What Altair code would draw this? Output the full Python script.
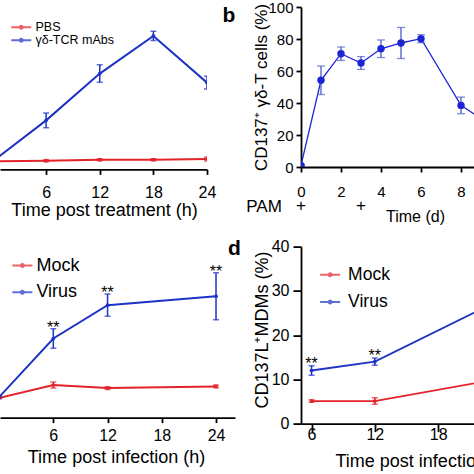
import altair as alt
import pandas as pd

FONT = "Liberation Sans"
RED = "#e3222a"
BLUE = "#1d33c4"
BLUE_B = "#1c24d6"
BLUE_B_ERR = "#4b5ccc"

# a: CD137 expression after treatment (hours)
a_hours = [0, 6, 12, 18, 24]
a_groups = ["PBS", "γδ-TCR mAbs"]
a_pbs = [2.45, 2.68, 2.99, 2.99, 3.2]
a_pbs_err = [0.2, 0.3, 0.3, 0.3, 0.6]
a_mabs = [2.45, 15.1, 29.5, 41.1, 26.7]
a_mabs_err = [0.2, 2.25, 2.7, 1.45, 1.95]

# b: CD137+ γδ-T cells over days of PAM stimulation
b_days = [0, 1, 2, 3, 4, 5, 6, 8, 10]
b_pct = [1.0, 54.2, 70.8, 65.0, 73.9, 77.5, 80.2, 38.5, 22.0]
b_err = [0.5, 8.9, 4.2, 4.0, 5.5, 9.7, 2.5, 5.2, 4.0]
pam_days = [0, 3]

# c: infection time course (hours)
inf_groups = ["Mock", "Virus"]
c_hours = [0, 6, 12, 24]
c_mock = [4.6, 7.6, 6.9, 7.3]
c_mock_err = [0.2, 0.7, 0.3, 0.3]
c_virus = [4.8, 18.5, 26.3, 28.4]
c_virus_err = [0.3, 2.3, 2.6, 5.5]
c_sig = ["", "**", "**", "**"]

# d: CD137L+ MDMs after infection (hours)
d_hours = [6, 12, 24]
d_mock = [5.1, 5.1, 10.2]
d_mock_err = [0.3, 0.75, 0.8]
d_virus = [12.0, 14.0, 28.1]
d_virus_err = [1.1, 0.8, 2.0]
d_sig = ["**", "**", "**"]

LEGEND_SYMBOL = "M-2,0L2,0M-0.3,0A0.3,0.3,0,1,0,0.3,0A0.3,0.3,0,1,0,-0.3,0"


def frame(x, groups, series, errs, sigs=None):
    rows = []
    for k, g in enumerate(groups):
        for i, t in enumerate(x):
            rows.append({
                "t": t, "group": g, "value": series[k][i], "err": errs[k][i],
                "sig": (sigs[k][i] if sigs and sigs[k] else ""),
            })
    return pd.DataFrame(rows)


def two_series_panel(df, groups, x_scale, x_axis, y_scale, y_axis, width, height,
                     legend, line_width=2.0, star_dy=4):
    color = alt.Color("group:N", scale=alt.Scale(domain=groups, range=[RED, BLUE]),
                      legend=legend)
    base = alt.Chart(df).transform_calculate(
        lo="datum.value - datum.err", hi="datum.value + datum.err"
    ).encode(x=alt.X("t:Q", scale=x_scale, axis=x_axis), color=color)
    yv = alt.Y("value:Q", scale=y_scale, axis=y_axis)
    ylo = alt.Y("lo:Q", scale=y_scale, axis=y_axis)
    yhi = alt.Y("hi:Q", scale=y_scale, axis=y_axis)
    line = base.mark_line(strokeWidth=line_width, clip=True).encode(y=yv)
    pts = base.mark_point(filled=True, size=14, opacity=1, clip=True).encode(y=yv)
    bars = base.mark_rule(strokeWidth=1.5, clip=True).encode(y=ylo, y2="hi:Q")
    cap_lo = base.mark_tick(orient="horizontal", size=6, thickness=1.5, clip=True).encode(y=ylo)
    cap_hi = base.mark_tick(orient="horizontal", size=6, thickness=1.5, clip=True).encode(y=yhi)
    stars = base.mark_text(font=FONT, fontSize=16, baseline="alphabetic", dy=star_dy,
                           clip=True).encode(y=yhi, text="sig:N", color=alt.value("black"))
    return alt.layer(line, bars, cap_lo, cap_hi, pts, stars).properties(width=width, height=height)


def make_legend(x, y, font_size, row_pad, label_offset):
    return alt.Legend(
        title=None, orient="none", legendX=x, legendY=y, direction="vertical",
        symbolType=LEGEND_SYMBOL, symbolSize=100, symbolStrokeWidth=2,
        labelFont=FONT, labelFontSize=font_size, labelColor="black",
        rowPadding=row_pad, labelOffset=label_offset, padding=0,
    )


def x_axis(values, title, label_size, label_pad, tick, title_x, title_y, title_size=18,
           title_align="center", label_expr=None):
    kw = dict(values=values, title=title, labelFontSize=label_size, labelPadding=label_pad,
              tickSize=tick, titleX=title_x, titleY=title_y, titleFontSize=title_size,
              titleAlign=title_align, titleBaseline="middle", labelFlush=False,
              labelOverlap=False)
    if label_expr:
        kw["labelExpr"] = label_expr
    return alt.Axis(**kw)


def y_axis(values, title, label_size, label_pad, tick, title_x, title_y, title_size):
    return alt.Axis(values=values, title=title, labelFontSize=label_size,
                    labelPadding=label_pad, tickSize=tick, titleFontSize=title_size,
                    titleAngle=270, titleX=title_x, titleY=title_y, titleAlign="center",
                    titleBaseline="middle", labelFlush=False, labelOverlap=False)


# ---- panel a
a_df = frame(a_hours, a_groups, [a_pbs, a_mabs], [a_pbs_err, a_mabs_err])
panel_a = two_series_panel(
    a_df, a_groups,
    alt.Scale(domain=[0.84, 24], nice=False, zero=False),
    x_axis([6, 12, 18, 24], "Time post treatment (h)", 16, 9.7, 5, 104, 41),
    alt.Scale(domain=[0, 50], nice=False), None,
    207, 162.4,
    make_legend(15, 14, 12.5, -3, 8),
)

# ---- panel b
b_df = pd.DataFrame({"day": b_days, "pct": b_pct, "err": b_err})
b_x = alt.Scale(domain=[0, 8.65], nice=False)
b_y = alt.Scale(domain=[0, 100], nice=False)
b_yaxis = y_axis([0, 20, 40, 60, 80, 100], "CD137⁺ γδ-T cells (%)", 15, 3, 5, -39.3, 80, 17)
b_base = alt.Chart(b_df).transform_calculate(
    lo="datum.pct - datum.err", hi="datum.pct + datum.err"
).encode(
    x=alt.X("day:Q", scale=b_x,
            axis=x_axis(list(range(0, 9)), "Time (d)", 15, 12, 5, 114, 49.7, title_size=16,
                        label_expr="datum.value % 2 === 0 ? datum.label : ''")),
)
b_line = b_base.mark_line(color=BLUE_B, strokeWidth=1.3, clip=True).encode(
    y=alt.Y("pct:Q", scale=b_y, axis=b_yaxis))
b_bars = b_base.mark_rule(color=BLUE_B_ERR, strokeWidth=1.3, clip=True).encode(
    y=alt.Y("lo:Q", scale=b_y, axis=b_yaxis), y2="hi:Q")
b_cap_lo = b_base.mark_tick(color=BLUE_B_ERR, orient="horizontal", size=8, thickness=1.3,
                            clip=True).encode(y=alt.Y("lo:Q", scale=b_y, axis=b_yaxis))
b_cap_hi = b_base.mark_tick(color=BLUE_B_ERR, orient="horizontal", size=8, thickness=1.3,
                            clip=True).encode(y=alt.Y("hi:Q", scale=b_y, axis=b_yaxis))
b_pts = b_base.mark_circle(color=BLUE_B, size=55, opacity=1, clip=True).encode(
    y=alt.Y("pct:Q", scale=b_y, axis=b_yaxis))
pam_df = pd.DataFrame({"day": pam_days, "mark": ["+"] * len(pam_days)})
b_pam = alt.Chart(pam_df).mark_text(font=FONT, fontSize=17, baseline="middle").encode(
    x=alt.X("day:Q", scale=b_x), y=alt.value(198.7), text="mark:N")
b_pam_label = alt.Chart(pam_df.head(1)).mark_text(
    font=FONT, fontSize=17, baseline="middle", text="PAM").encode(
    x=alt.value(-37), y=alt.value(199.7))
b_tag = alt.Chart(pam_df.head(1)).mark_text(
    font=FONT, fontSize=21, fontWeight="bold", baseline="alphabetic", text="b").encode(
    x=alt.value(-72), y=alt.value(14.7))
panel_b = alt.layer(b_line, b_bars, b_cap_lo, b_cap_hi, b_pts, b_pam, b_pam_label, b_tag
                    ).properties(width=173, height=160)

# ---- panel c
c_df = frame(c_hours, inf_groups, [c_mock, c_virus], [c_mock_err, c_virus_err],
             [None, c_sig])
panel_c = two_series_panel(
    c_df, inf_groups,
    alt.Scale(domain=[0.1, 26.1], nice=False, zero=False),
    x_axis([0, 6, 12, 18, 24], "Time post infection (h)", 16, 5, 5, 116, 40),
    alt.Scale(domain=[0, 40], nice=False), None,
    235, 171,
    make_legend(13.4, 10, 18, 8.7, 5),
)

# ---- panel d
d_df = frame(d_hours, inf_groups, [d_mock, d_virus], [d_mock_err, d_virus_err],
             [None, d_sig])
d_series = two_series_panel(
    d_df, inf_groups,
    alt.Scale(domain=[5, 21.4], nice=False, zero=False),
    x_axis([6, 12, 18], "Time post infection (h)", 16, -5, 8, 34, 37.7, title_align="left"),
    alt.Scale(domain=[0, 40], nice=False),
    y_axis([0, 10, 20, 30, 40], "CD137L⁺MDMs (%)", 16, 4, 8, -38.5, 83, 18),
    173, 177,
    make_legend(20.4, 19.5, 17.5, 8.2, 9.2), line_width=1.8, star_dy=3,
)
d_tag = alt.Chart(d_df.head(1)).mark_text(
    font=FONT, fontSize=21, fontWeight="bold", baseline="alphabetic", text="d").encode(
    x=alt.value(-66.7), y=alt.value(8.7))
panel_d = alt.layer(d_series, d_tag).properties(width=173, height=177)

# the right-hand panels run past the frame; trim the overflow on the right
chart = alt.concat(
    panel_a, panel_b, panel_c, panel_d, columns=2,
    spacing={"row": 76.6, "column": 66}, bounds="flush", align="each",
).resolve_scale(color="independent").resolve_legend(color="independent").properties(
    padding={"left": 0, "top": 0, "right": -39, "bottom": 0}, background="white"
).configure_view(stroke=None).configure_axis(
    grid=False, labelFont=FONT, titleFont=FONT, labelColor="black", titleColor="black",
    domainColor="black", tickColor="black", domainWidth=1.8, tickWidth=1.8,
    titleFontWeight="normal",
)

chart.save("out.html", embed_options={"renderer": "svg", "actions": False})
